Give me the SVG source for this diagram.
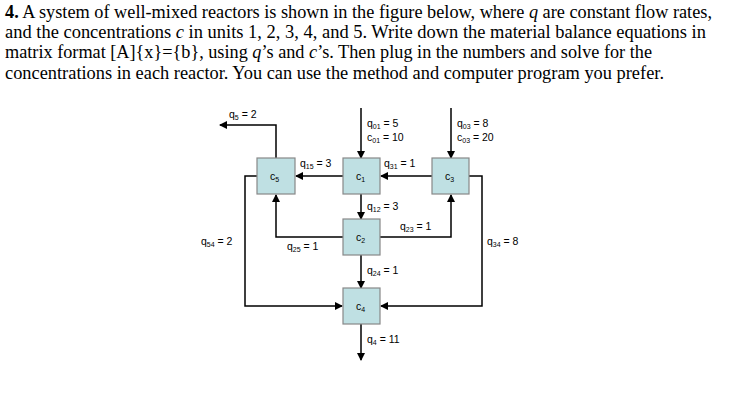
<svg xmlns="http://www.w3.org/2000/svg" width="736" height="405" viewBox="0 0 736 405">
<style>
.h{font-family:"Liberation Serif",serif;font-size:18.5px;fill:#000}
.l{font-family:"Liberation Sans",Arial,sans-serif;font-size:10.5px;fill:#000}
.s{font-size:7px}
.b{fill:#bfe0e3;stroke:#888;stroke-width:1.2}
.c{fill:none;stroke:#000;stroke-width:1.5}
</style>
<defs><marker id="a" markerWidth="8" markerHeight="8" refX="7" refY="4" orient="auto" markerUnits="userSpaceOnUse"><path d="M0,0 L8,4 L0,8 z" fill="#000"/></marker></defs>
<rect width="736" height="405" fill="#fff"/>
<text class="h" x="5" y="18" textLength="707" lengthAdjust="spacingAndGlyphs"><tspan font-weight="bold">4.</tspan> A system of well-mixed reactors is shown in the figure below, where <tspan font-style="italic">q</tspan> are constant flow rates,</text>
<text class="h" x="5" y="38" textLength="701" lengthAdjust="spacingAndGlyphs">and the concentrations <tspan font-style="italic">c</tspan> in units 1, 2, 3, 4, and 5. Write down the material balance equations in</text>
<text class="h" x="5" y="58" textLength="647" lengthAdjust="spacingAndGlyphs">matrix format [A]{x}={b}, using <tspan font-style="italic">q</tspan>’s and <tspan font-style="italic">c</tspan>’s. Then plug in the numbers and solve for the</text>
<text class="h" x="5" y="79" textLength="659" lengthAdjust="spacingAndGlyphs">concentrations in each reactor. You can use the method and computer program you prefer.</text>
<g id="connectors">
<path class="c" d="M276,158 V125 H220" marker-end="url(#a)"/>
<path class="c" d="M361,108 V158" marker-end="url(#a)"/>
<path class="c" d="M451,108 V158" marker-end="url(#a)"/>
<path class="c" d="M432,176 H381" marker-end="url(#a)"/>
<path class="c" d="M343,176 H296" marker-end="url(#a)"/>
<path class="c" d="M361,194 V219" marker-end="url(#a)"/>
<path class="c" d="M343,237 H276 V195" marker-end="url(#a)"/>
<path class="c" d="M380,237 H451 V195" marker-end="url(#a)"/>
<path class="c" d="M361,255 V288" marker-end="url(#a)"/>
<path class="c" d="M257,176 H245 V306 H342" marker-end="url(#a)"/>
<path class="c" d="M469,176 H482 V306 H381" marker-end="url(#a)"/>
<path class="c" d="M361,324 V360" marker-end="url(#a)"/>
</g>
<g id="c5"><rect class="b" x="257" y="158" width="38" height="36"/><text class="l" x="270" y="180">c<tspan class="s" dy="2">5</tspan></text></g>
<g id="c1"><rect class="b" x="343" y="158" width="37" height="36"/><text class="l" x="356" y="180">c<tspan class="s" dy="2">1</tspan></text></g>
<g id="c3"><rect class="b" x="432" y="158" width="37" height="36"/><text class="l" x="445" y="180">c<tspan class="s" dy="2">3</tspan></text></g>
<g id="c2"><rect class="b" x="343" y="219" width="37" height="36"/><text class="l" x="356" y="241">c<tspan class="s" dy="2">2</tspan></text></g>
<g id="c4"><rect class="b" x="343" y="288" width="37" height="36"/><text class="l" x="356" y="310">c<tspan class="s" dy="2">4</tspan></text></g>
<g id="labels">
<text class="l" x="229" y="118">q<tspan class="s" dy="2">5</tspan><tspan dy="-2"> = 2</tspan></text>
<text class="l" x="367" y="127">q<tspan class="s" dy="2">01</tspan><tspan dy="-2"> = 5</tspan></text>
<text class="l" x="367" y="141">c<tspan class="s" dy="2">01</tspan><tspan dy="-2"> = 10</tspan></text>
<text class="l" x="457" y="127">q<tspan class="s" dy="2">03</tspan><tspan dy="-2"> = 8</tspan></text>
<text class="l" x="457" y="141">c<tspan class="s" dy="2">03</tspan><tspan dy="-2"> = 20</tspan></text>
<text class="l" x="300" y="167">q<tspan class="s" dy="2">15</tspan><tspan dy="-2"> = 3</tspan></text>
<text class="l" x="384" y="167">q<tspan class="s" dy="2">31</tspan><tspan dy="-2"> = 1</tspan></text>
<text class="l" x="367" y="210">q<tspan class="s" dy="2">12</tspan><tspan dy="-2"> = 3</tspan></text>
<text class="l" x="400" y="230">q<tspan class="s" dy="2">23</tspan><tspan dy="-2"> = 1</tspan></text>
<text class="l" x="287" y="250">q<tspan class="s" dy="2">25</tspan><tspan dy="-2"> = 1</tspan></text>
<text class="l" x="201" y="245">q<tspan class="s" dy="2">54</tspan><tspan dy="-2"> = 2</tspan></text>
<text class="l" x="487" y="245">q<tspan class="s" dy="2">34</tspan><tspan dy="-2"> = 8</tspan></text>
<text class="l" x="367" y="274">q<tspan class="s" dy="2">24</tspan><tspan dy="-2"> = 1</tspan></text>
<text class="l" x="367" y="343">q<tspan class="s" dy="2">4</tspan><tspan dy="-2"> = 11</tspan></text>
</g>
</svg>
